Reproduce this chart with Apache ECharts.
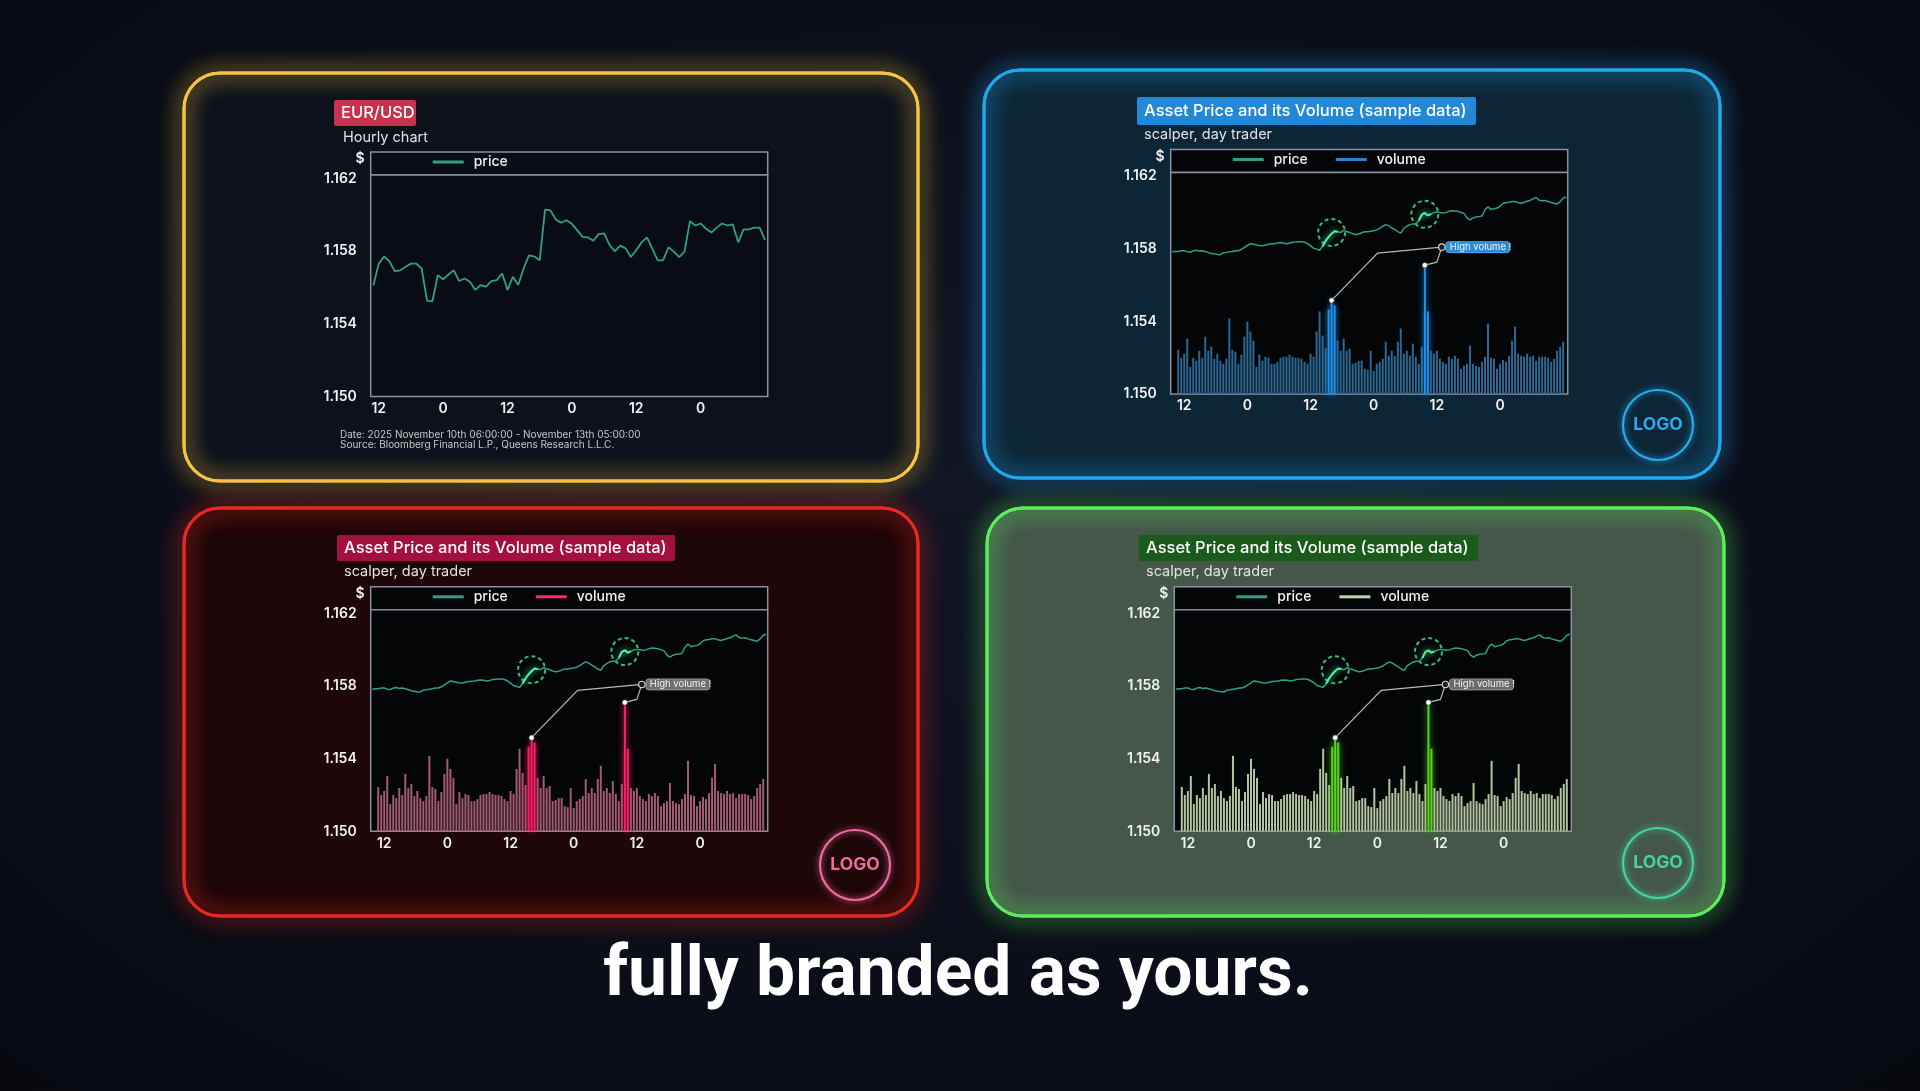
<!DOCTYPE html>
<html>
<head>
<meta charset="utf-8">
<script src="https://cdn.jsdelivr.net/npm/echarts@6/dist/echarts.min.js"></script>
<title>fully branded as yours.</title>
<style>
  html, body { margin: 0; height: 100%; background: #0a0d17; }
  #container {
    width: 1920px; height: 1091px;
    background: radial-gradient(ellipse at 50% 45%, #121624 0%, #0b0e19 60%, #07090f 100%);
  }
</style>
</head>
<body>
<div id="container"></div>
<script type="text/javascript">
// EUR/USD hourly closes (first bar 11:00)
const eurusd = [
  1.15611, 1.15732, 1.15771, 1.15744, 1.15690, 1.15695, 1.15715, 1.15732, 1.15732, 1.15705,
  1.15528, 1.15524, 1.15668, 1.15645, 1.15672, 1.15695, 1.15636, 1.15650, 1.15632, 1.15587,
  1.15614, 1.15605, 1.15636, 1.15641, 1.15677, 1.15587, 1.15659, 1.15614, 1.15705, 1.15777,
  1.15771, 1.15750, 1.16029, 1.16025, 1.15975, 1.15957, 1.15971, 1.15951, 1.15915, 1.15879,
  1.15876, 1.15858, 1.15894, 1.15899, 1.15836, 1.15800, 1.15831, 1.15816, 1.15768, 1.15807,
  1.15849, 1.15876, 1.15813, 1.15750, 1.15750, 1.15822, 1.15798, 1.15768, 1.15798, 1.15966,
  1.15942, 1.15953, 1.15924, 1.15903, 1.15930, 1.15953, 1.15942, 1.15948, 1.15849, 1.15921,
  1.15921, 1.15930, 1.15930, 1.15863
];
const eurusdStartHour = 11;

// sample asset, shared by the three branded versions
const assetPrice = [
  1.15783, 1.15785, 1.15785, 1.15789, 1.15789, 1.15783, 1.15781, 1.15789, 1.15792, 1.15787,
  1.15789, 1.15785, 1.15780, 1.15774, 1.15772, 1.15769, 1.15767, 1.15778, 1.15780, 1.15783,
  1.15785, 1.15789, 1.15789, 1.15796, 1.15807, 1.15818, 1.15828, 1.15825, 1.15821, 1.15818,
  1.15816, 1.15821, 1.15825, 1.15827, 1.15828, 1.15832, 1.15834, 1.15832, 1.15828, 1.15830,
  1.15836, 1.15837, 1.15839, 1.15839, 1.15836, 1.15828, 1.15816, 1.15803, 1.15798, 1.15792,
  1.15814, 1.15843, 1.15865, 1.15883, 1.15897, 1.15894, 1.15890, 1.15901, 1.15895, 1.15890,
  1.15883, 1.15879, 1.15881, 1.15888, 1.15894, 1.15894, 1.15897, 1.15899, 1.15904, 1.15912,
  1.15924, 1.15933, 1.15926, 1.15915, 1.15906, 1.15894, 1.15886, 1.15912, 1.15924, 1.15933,
  1.15937, 1.15937, 1.15955, 1.15988, 1.15997, 1.15984, 1.15991, 1.15999, 1.16002, 1.16000,
  1.15997, 1.15999, 1.16006, 1.16009, 1.16008, 1.16006, 1.16000, 1.15995, 1.15970, 1.15959,
  1.15970, 1.15975, 1.15977, 1.15980, 1.16015, 1.16031, 1.16017, 1.16020, 1.16024, 1.16033,
  1.16049, 1.16055, 1.16056, 1.16060, 1.16060, 1.16055, 1.16051, 1.16056, 1.16062, 1.16066,
  1.16075, 1.16082, 1.16067, 1.16064, 1.16066, 1.16060, 1.16055, 1.16051, 1.16047, 1.16060,
  1.16080, 1.16085
];
const assetVolume = [
  null, null, 220, 180, 200, 275, 135, 180, 165, 215,
  180, 285, 215, 235, 175, 200, 165, 150, 175, 375,
  220, 210, 150, 195, 285, 360, 310, 265, 135, 195,
  165, 185, 180, 150, 150, 160, 180, 185, 185, 195,
  185, 180, 180, 175, 160, 150, 200, 185, 310, 410,
  290, 230, 420, 465, 440, 265, 215, 275, 215, 225,
  150, 155, 165, 165, 125, 120, 215, 115, 150, 160,
  175, 260, 190, 215, 190, 260, 325, 200, 215, 190,
  250, 185, 150, 235, 640, 410, 215, 200, 215, 175,
  160, 150, 185, 175, 190, 175, 125, 140, 150, 240,
  150, 140, 135, 160, 185, 350, 180, 175, 125, 150,
  170, 160, 190, 265, 335, 200, 190, 185, 200, 185,
  190, 165, 185, 185, 185, 180, 160, 175, 215, 235,
  260, null
];
const assetTickIdx = [4, 25, 46, 67, 88, 109];
const assetTickLabels = ['12', '0', '12', '0', '12', '0'];
const hotBars = [52, 53, 54, 84, 85];
const calloutBars = [53, 84];
const spikeRanges = [[50, 55], [82, 86]];
const spikeCircles = [[53, 1.1589], [84, 1.1599]];

const priceMin = 1.150, priceMax = 1.1622, priceStep = 0.004;
const volumeMax = 1100;

const FONT = 'Inter, "Noto Sans", sans-serif';
const TEAL = '#2f9f86';
const FRAME = '#8c919b';

// layout / theme of each card
const cards = [
  { x: 184, y: 73, w: 734, h: 408, border: '#f6c343', fill: '#0c111c',
    gl: 370.7, gt: 175, plotBg: '#090c15',
    badge: { x: 334, y: 100, w: 82, h: 26, fill: '#c9314f', text: 'EUR/USD' },
    sub: { x: 343, y: 137.5, text: 'Hourly chart' } },
  { x: 984, y: 70, w: 736, h: 408, border: '#20a8ee', fill: '#0d2636',
    gl: 1170.7, gt: 172.5, plotBg: '#030507',
    badge: { x: 1137, y: 97, w: 339, h: 28, fill: '#2389d6', text: 'Asset Price and its Volume (sample data)' },
    sub: { x: 1144, y: 135, text: 'scalper, day trader' },
    bar: '#2d6894', hot: '#1f93ee', legendVol: '#1f86d8', tag: '#2a8ad8', tagStroke: '#5fb4f0',
    logo: { cx: 1658, cy: 425, color: '#2aaaf0' } },
  { x: 184, y: 508, w: 734, h: 408, border: '#e62a1f', fill: '#1d0709',
    gl: 370.7, gt: 609.8, plotBg: '#030507',
    badge: { x: 337, y: 535, w: 338, h: 26, fill: '#a3103f', text: 'Asset Price and its Volume (sample data)' },
    sub: { x: 344, y: 572, text: 'scalper, day trader' },
    bar: '#a35a72', hot: '#ff1f63', legendVol: '#ff2a6a', tag: '#6e6e6e', tagStroke: '#a8a8a8',
    logo: { cx: 855, cy: 865, color: '#f06aa0' } },
  { x: 987, y: 508, w: 737, h: 408, border: '#5ced5c', fill: '#44574a',
    gl: 1174.3, gt: 609.8, plotBg: '#030507',
    badge: { x: 1139, y: 535, w: 339, h: 26, fill: '#1c5a1c', text: 'Asset Price and its Volume (sample data)' },
    sub: { x: 1146, y: 572, text: 'scalper, day trader' },
    bar: '#b3c4a1', hot: '#5ad41c', legendVol: '#c3d1b1', tag: '#6a6a6a', tagStroke: '#a8a8a8',
    logo: { cx: 1658, cy: 863, color: '#45d4a0' } }
];
const GW = 397, GH = 221.5, LEG_H = 23;

const hours1 = eurusd.map((_, i) => String((eurusdStartHour + i) % 24));
const assetCats = assetPrice.map((_, i) => String(i));
const onStep = (v) => {
  const n = (v - priceMin) / priceStep;
  return Math.abs(n - Math.round(n)) < 1e-6;
};

const grids = [], xAxes = [], yAxes = [], series = [], legends = [];
const volSeriesIdx = [];

cards.forEach((c, k) => {
  grids.push({ left: c.gl, top: c.gt, width: GW, height: GH, show: true,
    backgroundColor: c.plotBg, borderColor: FRAME, borderWidth: 1.5 });
  const isHourly = k === 0;
  xAxes.push({
    type: 'category', gridIndex: k, data: isHourly ? hours1 : assetCats,
    axisLine: { show: false }, axisTick: { show: false },
    axisLabel: {
      color: '#f2f2f2', fontSize: 14, fontWeight: 600, fontFamily: FONT, margin: 5,
      interval: isHourly
        ? (i, v) => (v === '0' || v === '12') && i < hours1.length - 1
        : (i) => assetTickIdx.includes(i),
      formatter: isHourly ? (v) => v : (v, i) => assetTickLabels[assetTickIdx.indexOf(i)]
    }
  });
  const priceAxis = yAxes.length;
  yAxes.push({
    type: 'value', gridIndex: k, min: priceMin, max: priceMax, interval: priceStep,
    name: '$', nameLocation: 'end', nameGap: 9,
    nameTextStyle: { color: '#f2f2f2', fontSize: 14, fontWeight: 600, fontFamily: FONT, align: 'right', padding: [0, 6, 0, 0] },
    axisLine: { show: false }, axisTick: { show: false }, splitLine: { show: false },
    axisLabel: { color: '#f2f2f2', fontSize: 14, fontWeight: 600, fontFamily: FONT, margin: 14,
      formatter: (v) => onStep(v) ? v.toFixed(3) : '' }
  });
  series.push({
    name: 'price', type: 'line', xAxisIndex: k, yAxisIndex: priceAxis,
    data: isHourly ? eurusd : assetPrice, showSymbol: false, z: 5,
    lineStyle: { color: TEAL, width: isHourly ? 1.8 : 1.5 }, itemStyle: { color: TEAL }
  });
  const legendData = [{ name: 'price', itemStyle: { color: TEAL } }];
  if (!isHourly) {
    const volAxis = yAxes.length;
    yAxes.push({ type: 'value', gridIndex: k, min: 0, max: volumeMax, show: false, splitLine: { show: false } });
    series.push({
      name: 'spike', type: 'line', xAxisIndex: k, yAxisIndex: priceAxis, showSymbol: false, z: 6,
      data: assetPrice.map((v, i) => spikeRanges.some(r => i >= r[0] && i <= r[1]) ? v : null),
      lineStyle: { color: '#4ff0a0', width: 2, shadowBlur: 6, shadowColor: '#3de895' },
      markPoint: {
        symbol: 'circle', symbolSize: 27, silent: true, label: { show: false },
        itemStyle: { color: 'rgba(0,0,0,0)', borderColor: '#2fbf7c', borderWidth: 2, borderType: [4, 3] },
        data: spikeCircles.map(p => ({ coord: p }))
      }
    });
    volSeriesIdx.push(series.length);
    series.push({
      name: 'volume', type: 'bar', xAxisIndex: k, yAxisIndex: volAxis, barWidth: 2, z: 3,
      itemStyle: { color: c.bar },
      data: assetVolume.map((v, i) => hotBars.includes(i)
        ? { value: v, itemStyle: { color: c.hot, shadowBlur: 6, shadowColor: c.hot } } : v)
    });
    legendData.push({ name: 'volume', itemStyle: { color: c.legendVol } });
  }
  legends.push({
    left: c.gl + 62, top: c.gt - LEG_H + 3, padding: 0, itemGap: 28,
    itemWidth: 31, itemHeight: 3, icon: 'rect', selectedMode: false, data: legendData,
    textStyle: { color: '#f2f2f2', fontSize: 14, fontWeight: 500, fontFamily: FONT, padding: [0, 0, 0, 5] }
  });
});

const dom = document.getElementById('container');
const chart = echarts.init(dom, null, { renderer: 'canvas' });
chart.setOption({
  animation: false,
  grid: grids, xAxis: xAxes, yAxis: yAxes, series: series, legend: legends
});

// cards, titles, logos and the call-outs
const g = [];
cards.forEach((c, k) => {
  g.push({ type: 'rect', z: -20, shape: { x: c.x, y: c.y, width: c.w, height: c.h, r: 36 },
    style: { fill: c.fill } });
  for (let pass = 0; pass < 2; pass++) {
    g.push({ type: 'rect', z: -19, shape: { x: c.x, y: c.y, width: c.w, height: c.h, r: 36 },
      style: { fill: null, stroke: c.border, lineWidth: 3, shadowBlur: 22, shadowColor: c.border } });
  }
  g.push({ type: 'rect', z: -5, shape: { x: c.gl, y: c.gt - LEG_H, width: GW, height: LEG_H },
    style: { fill: c.plotBg, stroke: FRAME, lineWidth: 1.5 } });
  g.push({ type: 'rect', z: -5, shape: { x: c.badge.x, y: c.badge.y, width: c.badge.w, height: c.badge.h, r: 2 },
    style: { fill: c.badge.fill } });
  g.push({ type: 'text', z: -4, x: c.badge.x + 7, y: c.badge.y + c.badge.h / 2 + 0.5,
    style: { text: c.badge.text, fill: '#ffffff', font: '500 16.5px ' + FONT, verticalAlign: 'middle' } });
  g.push({ type: 'text', z: -4, x: c.sub.x, y: c.sub.y,
    style: { text: c.sub.text, fill: '#e2e2e2', font: '400 14.5px ' + FONT, verticalAlign: 'middle' } });
  if (c.logo) {
    g.push({ type: 'circle', z: -4, shape: { cx: c.logo.cx, cy: c.logo.cy, r: 35 },
      style: { fill: null, stroke: c.logo.color, lineWidth: 2.2, shadowBlur: 6, shadowColor: c.logo.color } });
    g.push({ type: 'text', z: -4, x: c.logo.cx, y: c.logo.cy,
      style: { text: 'LOGO', fill: c.logo.color, font: '700 17.5px ' + FONT, align: 'center', verticalAlign: 'middle' } });
  }
  if (k > 0) {
    const vs = volSeriesIdx[k - 1];
    const p1 = chart.convertToPixel({ seriesIndex: vs }, [calloutBars[0], assetVolume[calloutBars[0]]]);
    const p2 = chart.convertToPixel({ seriesIndex: vs }, [calloutBars[1], assetVolume[calloutBars[1]]]);
    const anchor = [p2[0] + 17, p2[1] - 18];
    const bend1 = [p1[0] + 46, anchor[1] + 6];
    const bend2 = [p2[0] + 12, p2[1] - 3];
    const lineStyle = { fill: null, stroke: '#b8b8b8', lineWidth: 1.2 };
    g.push({ type: 'polyline', z: 50, shape: { points: [p1, bend1, anchor] }, style: lineStyle });
    g.push({ type: 'polyline', z: 50, shape: { points: [p2, bend2, anchor] }, style: lineStyle });
    [p1, p2].forEach(p => g.push({ type: 'circle', z: 51, shape: { cx: p[0], cy: p[1], r: 2.6 },
      style: { fill: '#ffffff', stroke: '#222', lineWidth: 0.5 } }));
    g.push({ type: 'rect', z: 51, shape: { x: anchor[0] + 4, y: anchor[1] - 5.5, width: 64, height: 11, r: 3 },
      style: { fill: c.tag, stroke: c.tagStroke, lineWidth: 0.8 } });
    g.push({ type: 'text', z: 52, x: anchor[0] + 8, y: anchor[1],
      style: { text: 'High volume !', fill: '#f2f2f2', font: '400 9.5px ' + FONT, verticalAlign: 'middle' } });
    g.push({ type: 'circle', z: 53, shape: { cx: anchor[0], cy: anchor[1], r: 3.2 },
      style: { fill: '#1b1b1b', stroke: '#d0d0d0', lineWidth: 1.2 } });
  }
});
g.push({ type: 'text', z: -4, x: 340, y: 434.5,
  style: { text: 'Date: 2025 November 10th 06:00:00 - November 13th 05:00:00', fill: '#c8c8c8',
    font: '400 10px ' + FONT, verticalAlign: 'middle' } });
g.push({ type: 'text', z: -4, x: 340, y: 444.5,
  style: { text: 'Source: Bloomberg Financial L.P., Queens Research L.L.C.', fill: '#c8c8c8',
    font: '400 10px ' + FONT, verticalAlign: 'middle' } });
g.push({ type: 'text', z: 10, x: 958, y: 978,
  style: { text: 'fully branded as yours.', fill: '#ffffff', font: '700 69.5px Roboto, sans-serif',
    align: 'center', verticalAlign: 'middle' } });

chart.setOption({ graphic: { elements: g } });
</script>
</body>
</html>
